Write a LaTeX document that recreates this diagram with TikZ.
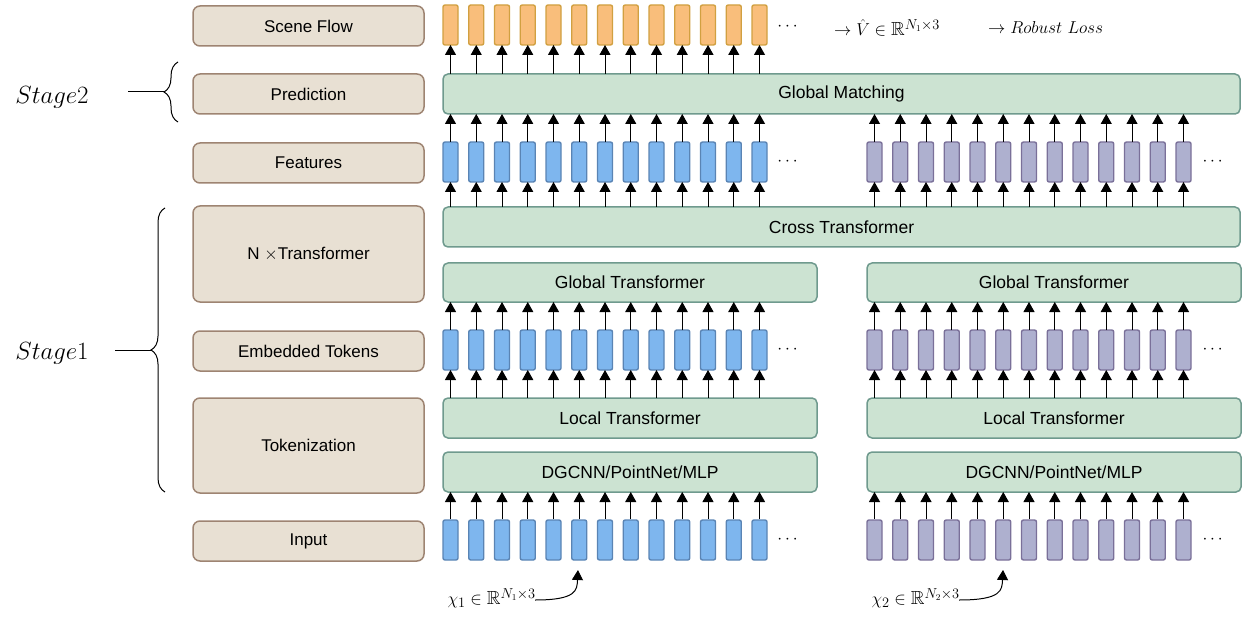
\documentclass[tikz,border=0pt]{standalone}
\usepackage{amsmath,amssymb}
\usepackage{fontspec}
\setmainfont{Liberation Sans}
\usetikzlibrary{arrows.meta,decorations.pathreplacing}
\definecolor{beigeF}{HTML}{E8E0D3}\definecolor{beigeD}{HTML}{9E8472}
\definecolor{greenF}{HTML}{CCE3D2}\definecolor{greenD}{HTML}{6F9A8E}
\definecolor{blueF}{HTML}{7EB6EE}\definecolor{blueD}{HTML}{5A84B4}
\definecolor{purpF}{HTML}{AEB0CF}\definecolor{purpD}{HTML}{7A7099}
\definecolor{orF}{HTML}{F9BE7B}\definecolor{orD}{HTML}{D1A041}
\begin{document}
\begin{tikzpicture}[x=1pt,y=-1pt,
  lab/.style={draw=beigeD,fill=beigeF,line width=1.5pt,rounded corners=7pt,font=\fontsize{17}{20}\selectfont},
  gbox/.style={draw=greenD,fill=greenF,line width=1.5pt,rounded corners=5pt,font=\fontsize{17.5}{20}\selectfont},
  bar/.style={line width=1.4pt,rounded corners=2pt},
  arr/.style={-{Triangle[length=10pt,width=11pt]},line width=1pt},
  mt/.style={font=\fontsize{19}{22}\selectfont}]
\useasboundingbox (0,0) rectangle (1246,617);
% left labels
\foreach \n/\t/\a/\b in {sf/Scene Flow/6/46,pr/Prediction/74/114,fe/Features/143/183,nt/N $\times$Transformer/206/302,et/Embedded Tokens/331/371,to/Tokenization/398/493,in/Input/521/561}
  \draw[lab] (193,\a) rectangle (424,\b) node[midway] (\n) {\t};
% green boxes
\draw[gbox] (443,74) rectangle (1240,114) node[midway] (gm) {Global Matching};
\draw[gbox] (443,207) rectangle (1240,247) node[midway] (ct) {Cross Transformer};
\foreach \s/\x in {L/443,R/867}{
  \draw[gbox] (\x,263) rectangle ({\x+374},302) node[midway] (gt\s) {Global Transformer};
  \draw[gbox] (\x,398) rectangle ({\x+374},438) node[midway] (lt\s) {Local Transformer};
  \draw[gbox] (\x,452) rectangle ({\x+374},492) node[midway] (dg\s) {DGCNN/PointNet/MLP};
}
% bars and arrows
\foreach \i in {0,...,12}{
  \pgfmathsetmacro{\cx}{450.5+25.75*\i}
  \pgfmathsetmacro{\cy}{874.5+25.75*\i}
  \draw[bar,draw=orD,fill=orF] (\cx-7.5,5) rectangle (\cx+7.5,45);
  \draw[arr] (\cx,74) -- (\cx,45);
  \foreach \c/\f/\d in {\cx/blueF/blueD,\cy/purpF/purpD}{
    \draw[bar,draw=\d,fill=\f] (\c-7.5,142) rectangle (\c+7.5,182);
    \draw[bar,draw=\d,fill=\f] (\c-7.5,330) rectangle (\c+7.5,370);
    \draw[bar,draw=\d,fill=\f] (\c-7.5,520) rectangle (\c+7.5,560);
    \draw[arr] (\c,142) -- (\c,114);
    \draw[arr] (\c,207) -- (\c,182);
    \draw[arr] (\c,330) -- (\c,302);
    \draw[arr] (\c,398) -- (\c,370);
    \draw[arr] (\c,519) -- (\c,492);
  }
}
\foreach \x/\y in {789/27,789/162,1214/162,789/350,1214/350,789/540,1214/540}
  \node[font=\fontsize{17}{20}\selectfont,inner sep=0pt] at (\x,\y) {$\cdots$};
\node[mt,anchor=west,inner sep=0pt] at (834,28) {$\rightarrow \hat{V}\in\mathbb{R}^{N_1\times 3}$};
\node[mt,anchor=west,inner sep=0pt] at (988,28) {$\rightarrow Robust\ Loss$};
% bottom labels
\node[mt,anchor=west] (x1) at (444,598) {$\chi_1\in\mathbb{R}^{N_1\times 3}$};
\node[mt,anchor=west] (x2) at (868,598) {$\chi_2\in\mathbb{R}^{N_2\times 3}$};
\coordinate (t1) at (578,570); \coordinate (t2) at (1003,570);
\draw[arr] ([xshift=-4pt,yshift=-2pt]x1.east) .. controls (577,600) and (577,590) .. (t1);
\draw[arr] ([xshift=-4pt,yshift=-2pt]x2.east) .. controls (1002,600) and (1002,590) .. (t2);
% braces
\draw[line width=1pt,decorate,decoration={brace,amplitude=14pt}] (178,122) -- (178,62) node[midway,xshift=-14pt] (b2) {};
\draw[line width=1pt,decorate,decoration={brace,amplitude=14pt}] (165,492) -- (165,208) node[midway,xshift=-14pt] (b1) {};
\draw[line width=1pt] (b2.center) -- ++(-36,0) coordinate (e2);
\draw[line width=1pt] (b1.center) -- ++(-36,0) coordinate (e1);
\node[font=\fontsize{23}{26}\selectfont] at (52,97) {$Stage2$};
\node[font=\fontsize{23}{26}\selectfont] at (52,353) {$Stage1$};
\end{tikzpicture}
\end{document}
